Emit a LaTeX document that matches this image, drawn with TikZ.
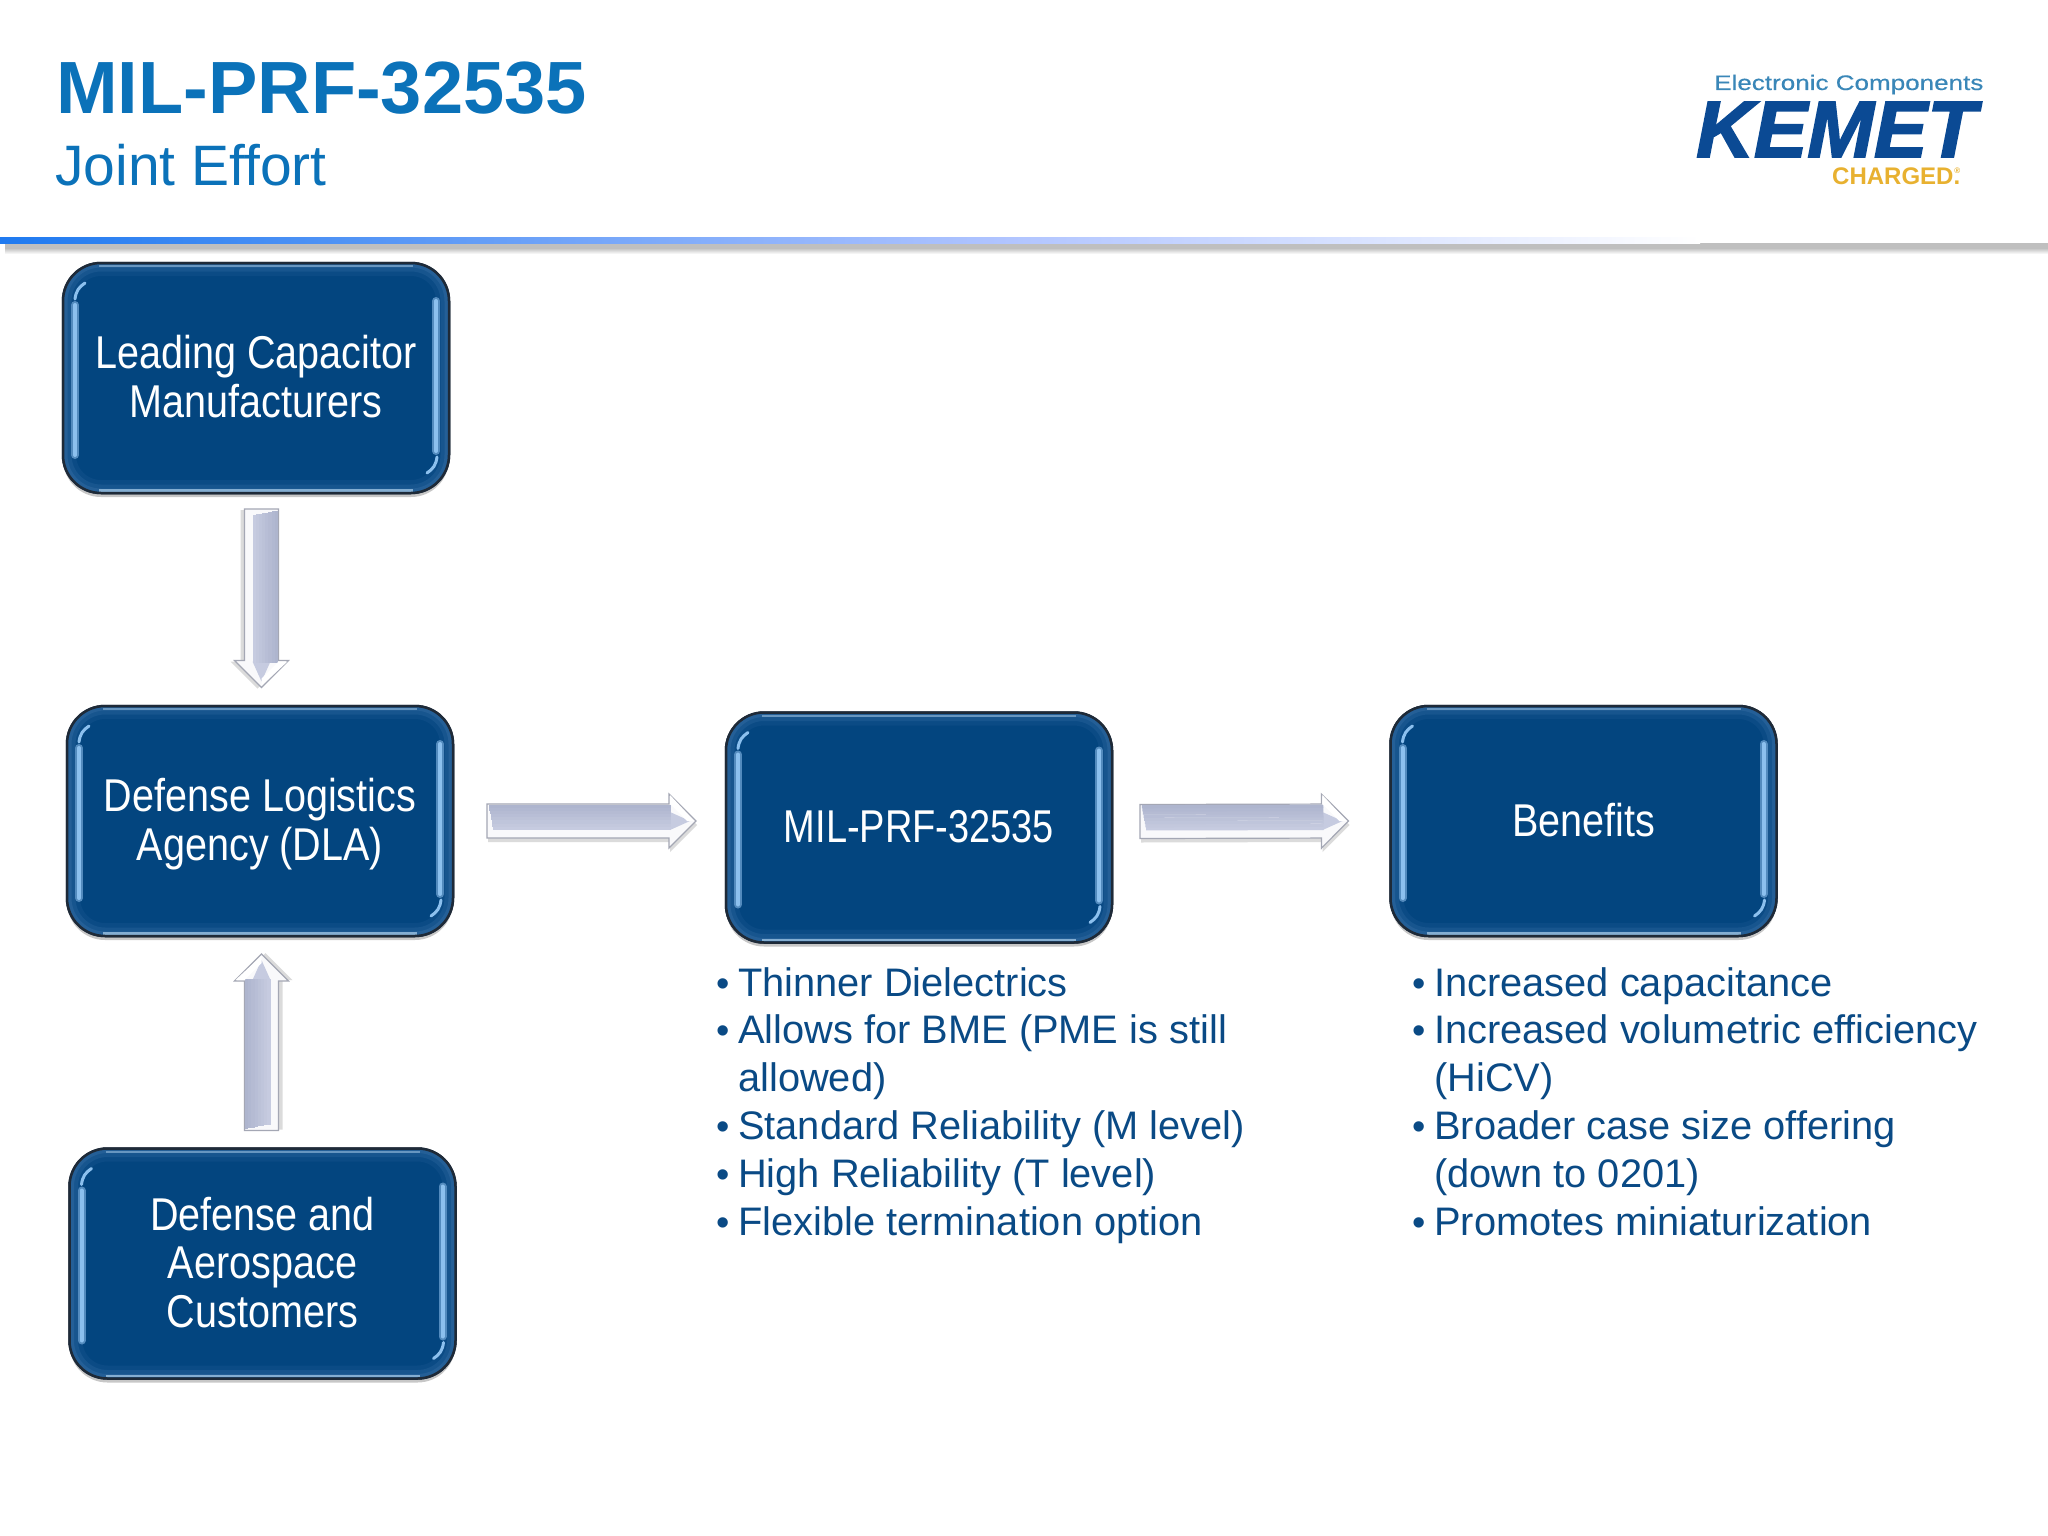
\documentclass[tikz,border=0pt]{standalone}
\usepackage{fontspec}
\setmainfont{Liberation Sans}
\newfontfamily\narrowfont[FakeStretch=0.86]{Liberation Sans}
\newfontfamily\logowide[FakeStretch=1.24,FakeBold=0.4]{Liberation Sans}
\newfontfamily\logomarkfont[FakeBold=2.2]{Liberation Sans}
\usetikzlibrary{calc,shadows}
\definecolor{titleblue}{HTML}{0B72B9}
\definecolor{navy}{HTML}{03457F}
\definecolor{band}{HTML}{245F97}
\definecolor{bandlight}{HTML}{84AED2}
\definecolor{glow}{HTML}{8CC0EE}
\definecolor{listblue}{HTML}{0A4A85}
\definecolor{arrowdark}{HTML}{AEB5CE}
\definecolor{arrowmid}{HTML}{C6CBE0}
\definecolor{arrowedge}{HTML}{A4A7B4}
\definecolor{rim}{HTML}{1E2A38}
\definecolor{ruleblue}{HTML}{1F7AF0}
\definecolor{rulepale}{HTML}{B0C4FF}
\definecolor{logoblue}{HTML}{0B4A94}
\definecolor{logogold}{HTML}{E8B130}
\definecolor{logolight}{HTML}{3A87B8}
\tikzset{
  x=1pt,y=1pt,
  flowbox/.style={
    rectangle,rounded corners=38pt,minimum width=386pt,minimum height=230pt,
    inner sep=0pt,outer sep=0pt,align=center,text=white,draw=rim,line width=2.5pt,fill=navy,
    font=\narrowfont\fontsize{46}{48.5}\selectfont,
    drop shadow={shadow xshift=0pt,shadow yshift=-4pt,opacity=.22,fill=black}
  },
  listtext/.style={anchor=north west,align=left,inner sep=0pt,text=listblue,font=\fontsize{39.8}{47.9}\selectfont},
}
\newcommand{\bul}{\makebox[22pt][l]{\fontsize{38}{38}\selectfont•}}
\newcommand{\boxdeco}[1]{%
  \begin{scope}[shift={(#1.north west)}]
    \begin{scope}
      \clip[rounded corners=38pt] (0,0) rectangle (386,-230);
      \draw[navy!75!band,line width=26pt,rounded corners=38pt] (0,0) rectangle (386,-230);
      \draw[navy!40!band,line width=17pt,rounded corners=38pt] (0,0) rectangle (386,-230);
      \draw[band,line width=9pt,rounded corners=38pt] (0,0) rectangle (386,-230);
      \draw[bandlight,line width=2.5pt] (36,-227.5) -- (350,-227.5);
      \draw[bandlight!70!band,line width=2pt] (36,-3) -- (350,-3);
      \foreach \gx/\ga/\gb in {12/-42/-192,373/-38/-188}{
        \draw[glow!45!band,line width=8pt,line cap=round] (\gx,\ga) -- (\gx,\gb);
        \draw[glow,line width=4pt,line cap=round] (\gx,\ga) -- (\gx,\gb);
      }
      \draw[glow,line width=3pt,line cap=round] (12,-36) .. controls (13,-28) and (16,-24) .. (22,-20);
      \draw[glow,line width=3pt,line cap=round] (374,-194) .. controls (373,-202) and (370,-206) .. (364,-210);
    \end{scope}
    \draw[rim,line width=2.5pt,rounded corners=38pt] (0,0) rectangle (386,-230);
  \end{scope}}
\newcommand{\blockarrow}[2]{%
  \pgfpointdiff{\pgfpointanchor{#1}{center}}{\pgfpointanchor{#2}{center}}%
  \pgfgetlastxy{\bdx}{\bdy}%
  \pgfmathsetmacro{\bL}{veclen(\bdx,\bdy)}%
  \pgfmathsetmacro{\bA}{atan2(\bdy,\bdx)}%
  \pgfmathsetmacro{\bB}{\bL-27}%
  \begin{scope}[shift={(#1)},rotate=\bA]
    \fill[black,opacity=.14] (1,-21) -- (\bB+1,-21) -- (\bB+1,-31) -- (\bL+1,-4) -- (\bB+1,23) -- (\bB+1,13) -- (1,13) -- cycle;
    \fill[white!92!arrowdark,draw=arrowedge,line width=1.2pt] (0,-17) -- (\bB,-17) -- (\bB,-27) -- (\bL,0) -- (\bB,27) -- (\bB,17) -- (0,17) -- cycle;
    \fill[arrowmid] (\bB+1,-9) -- (\bL-6,0) -- (\bB+1,9) -- cycle;
    \foreach \bi in {0,...,7}{
      \pgfmathsetmacro{\byl}{-9+\bi*3.175}
      \pgfmathsetmacro{\byh}{\byl+3.4}
      \pgfmathsetmacro{\bmix}{100-\bi*100/7}
      \pgfmathsetmacro{\btx}{6-(\byl+9)*0.19}
      \fill[arrowmid!\bmix!arrowdark] (\btx,\byl) rectangle (\bB+2,{min(\byh,16.4)});
    }
    \fill[white] (\bB+1,17) -- (\bB+1,26) -- (\bL-2,0) -- (\bL-9,0) -- cycle;
  \end{scope}}
\begin{document}
\begin{tikzpicture}
\useasboundingbox (0,0) rectangle (2048,-1536);
\fill[white] (0,0) rectangle (2048,-1536);

% title
\node[anchor=base west,inner sep=0pt,text=titleblue,font=\bfseries\fontsize{74}{74}\selectfont] (title) at (56,-114) {MIL-PRF-32535};
\node[anchor=base west,inner sep=0pt,text=titleblue,font=\fontsize{57}{60}\selectfont] (subtitle) at (55,-185) {Joint Effort};

% rule
\fill[black!25] (5,-243) rectangle (2048,-248);
\fill[top color=black!25,bottom color=white] (5,-248) rectangle (2048,-254);
\fill[left color=ruleblue,right color=rulepale] (0,-237) rectangle (1000,-243);
\fill[left color=rulepale,right color=white] (1000,-237) rectangle (1700,-243);

% logo
\node[anchor=base west,inner sep=0pt,text=logolight,font=\logowide\fontsize{21}{22}\selectfont] (logotop) at (1714,-90) {Electronic Components};
\node[anchor=base west,inner sep=0pt,text=logoblue,font=\logomarkfont\bfseries\itshape\fontsize{80}{80}\selectfont] (logomark) at (1696,-157) {KEMET};
\node[anchor=base west,inner sep=0pt,text=logogold,font=\bfseries\fontsize{24}{24}\selectfont] (logosub) at (1832,-184) {CHARGED.\llap{\raisebox{11pt}{\fontsize{8}{8}\selectfont®}}};

% boxes
\node[flowbox] (lead) at (256,-378) {Leading Capacitor\\Manufacturers\rule[-3pt]{0pt}{1pt}};
\node[flowbox] (dla) at (260,-821) {\rule{0pt}{40pt}Defense Logistics\\Agency (DLA)};
\node[flowbox] (cust) at (262.5,-1263.5) {Defense and\\Aerospace\\Customers\rule[-3pt]{0pt}{1pt}};
\node[flowbox] (mil) at (919,-827.5) {\scalebox{.96}[1]{MIL-PRF-32535}\rule[-3pt]{0pt}{1pt}};
\node[flowbox] (ben) at (1583.5,-821) {Benefits\rule[-3pt]{0pt}{1pt}};
\boxdeco{lead}\boxdeco{dla}\boxdeco{cust}\boxdeco{mil}\boxdeco{ben}

% connector ends
\coordinate (a1s) at ([xshift=5.5pt,yshift=-16pt]lead.south);
\coordinate (a1e) at ([xshift=1.5pt,yshift=18.5pt]dla.north);
\coordinate (a2s) at ([xshift=-1pt,yshift=18pt]cust.north);
\coordinate (a2e) at ([xshift=1.5pt,yshift=-18pt]dla.south);
\coordinate (a3s) at ([xshift=34pt]dla.east);
\coordinate (a3e) at ([xshift=-30pt,yshift=6.5pt]mil.west);
\coordinate (a4s) at ([xshift=28pt,yshift=6pt]mil.east);
\coordinate (a4e) at ([xshift=-42pt]ben.west);
\blockarrow{a1s}{a1e}
\blockarrow{a2s}{a2e}
\blockarrow{a3s}{a3e}
\blockarrow{a4s}{a4e}

% lists
\node[listtext] (list1) at (716,-967) {%
\bul Thinner Dielectrics\\
\bul Allows for BME (PME is still\\
\hspace*{22pt}allowed)\\
\bul Standard Reliability (M level)\\
\bul High Reliability (T level)\\
\bul Flexible termination option};
\node[listtext] (list2) at (1412,-967) {%
\bul Increased capacitance\\
\bul Increased volumetric efficiency\\
\hspace*{22pt}(HiCV)\\
\bul Broader case size offering\\
\hspace*{22pt}(down to 0201)\\
\bul Promotes miniaturization};
\end{tikzpicture}
\end{document}
